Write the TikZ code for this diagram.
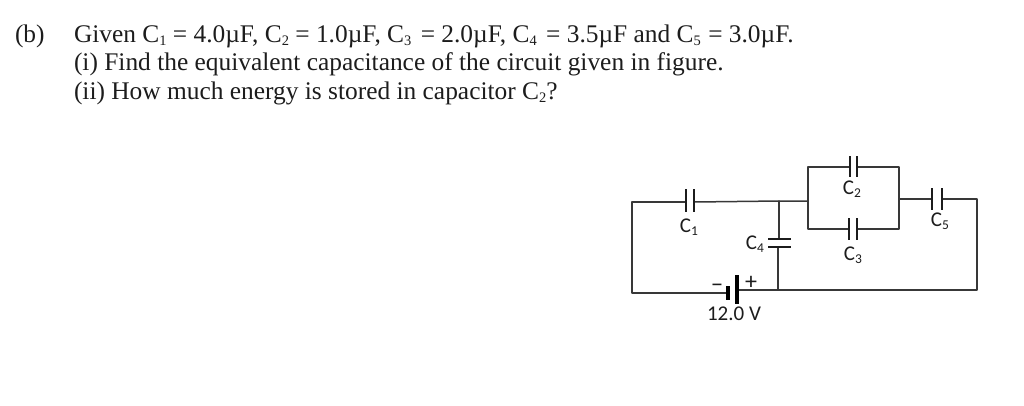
\documentclass[tikz,border=0pt]{standalone}
\usepackage{fontspec}
\setmainfont{Liberation Serif}
\newfontfamily\labelfont{Carlito}
\newcommand{\sbx}[1]{\raisebox{-0.12em}{\fontsize{14.5}{15}\selectfont #1}}
\newcommand{\sby}[1]{\raisebox{-0.14em}{\fontsize{13.5}{14}\selectfont #1}}
\definecolor{ink}{HTML}{1C1C1C}
\definecolor{wire}{HTML}{383838}
\begin{document}
\begin{tikzpicture}[x=1pt,y=-1pt,
  qtext/.style={anchor=base west,inner sep=0pt,outer sep=0pt,text=ink,font=\fontsize{25.4}{27}\selectfont},
  clabel/.style={inner sep=0pt,outer sep=0pt,text=ink,font=\labelfont\fontsize{21}{24}\selectfont},
  wireline/.style={draw=wire,line width=1.5pt,line cap=round,line join=round},
  plate/.style={draw=ink,line width=1.8pt},
  lplate/.style={draw=black,line width=3.6pt},
  splate/.style={draw=black,line width=4.6pt}]
\useasboundingbox (0,0) rectangle (1024,405);
\node[qtext] (tb) at (15,42) {(b)};
\node[qtext] (t1) at (74,42) {Given C\sbx{1} = 4.0µF, C\sbx{2} = 1.0µF, C\sbx{3}\kern3pt{} = 2.0µF, C\sbx{4}\kern3pt{} = 3.5µF and C\sbx{5}\kern1pt{} = 3.0µF.};
\node[qtext] (t2) at (74,70) {(i) Find the equivalent capacitance of the circuit given in figure.};
\node[qtext] (t3) at (74,99) {(ii) How much energy is stored in capacitor C\sbx{2}?};
% corners and junctions
\coordinate (tl) at (632,202);
\coordinate (bl) at (632,293);
\coordinate (j) at (779,201);
\coordinate (pl) at (808,201);
\coordinate (ptl) at (808,167);
\coordinate (pbl) at (808,229);
\coordinate (ptr) at (899,167);
\coordinate (pbr) at (899,229);
\coordinate (pr) at (899,199);
\coordinate (tr) at (977,199);
\coordinate (br) at (977,290);
\coordinate (jb) at (778,290);
% plates
\coordinate (c1a) at (686,202); \coordinate (c1b) at (694,202);
\coordinate (c2a) at (850,167); \coordinate (c2b) at (857,167);
\coordinate (c3a) at (849,229); \coordinate (c3b) at (857,229);
\coordinate (c4a) at (779,239); \coordinate (c4b) at (778,247);
\coordinate (c5a) at (932,199); \coordinate (c5b) at (942,199);
\coordinate (bs) at (728,293); \coordinate (bp) at (737,290);
% wires
\draw[wireline] (c1a) -- (tl) -- (bl) -- (bs);
\draw[wireline] (c1b) -- (j) -- (pl);
\draw[wireline] (c2a) -- (ptl) -- (pbl) -- (c3a);
\draw[wireline] (c2b) -- (ptr) -- (pbr) -- (c3b);
\draw[wireline] (pr) -- (c5a);
\draw[wireline] (c5b) -- (tr) -- (br) -- (bp);
\draw[wireline] (j) -- (c4a);
\draw[wireline] (c4b) -- (jb);
% plates
\draw[plate] (686,189) -- (686,212);
\draw[plate] (694,189) -- (694,212);
\draw[plate] (850,156) -- (850,177);
\draw[plate] (857,156) -- (857,177);
\draw[plate] (849,218) -- (849,240);
\draw[plate] (857,218) -- (857,240);
\draw[plate] (768,239) -- (791,239);
\draw[plate] (768,247) -- (791,247);
\draw[plate] (932,188) -- (932,210);
\draw[plate] (942,188) -- (942,210);
\draw[lplate] (737,275) -- (737,304);
\draw[splate] (728,286) -- (728,300);
% labels
\node[clabel] (lc1) at (689,227) {C\sby{1}};
\node[clabel] (lc2) at (852,189) {C\sby{2}};
\node[clabel] (lc3) at (853,255) {C\sby{3}};
\node[clabel] (lc4) at (755,244) {C\sby{4}};
\node[clabel] (lc5) at (940,221) {C\sby{5}};
\node[clabel] (minus) at (717,288) {\fontsize{24}{24}\selectfont −};
\node[clabel] (plus) at (751,283) {\fontsize{24}{24}\selectfont +};
\node[clabel] (volt) at (734,314) {12.0 V};
\end{tikzpicture}
\end{document}
